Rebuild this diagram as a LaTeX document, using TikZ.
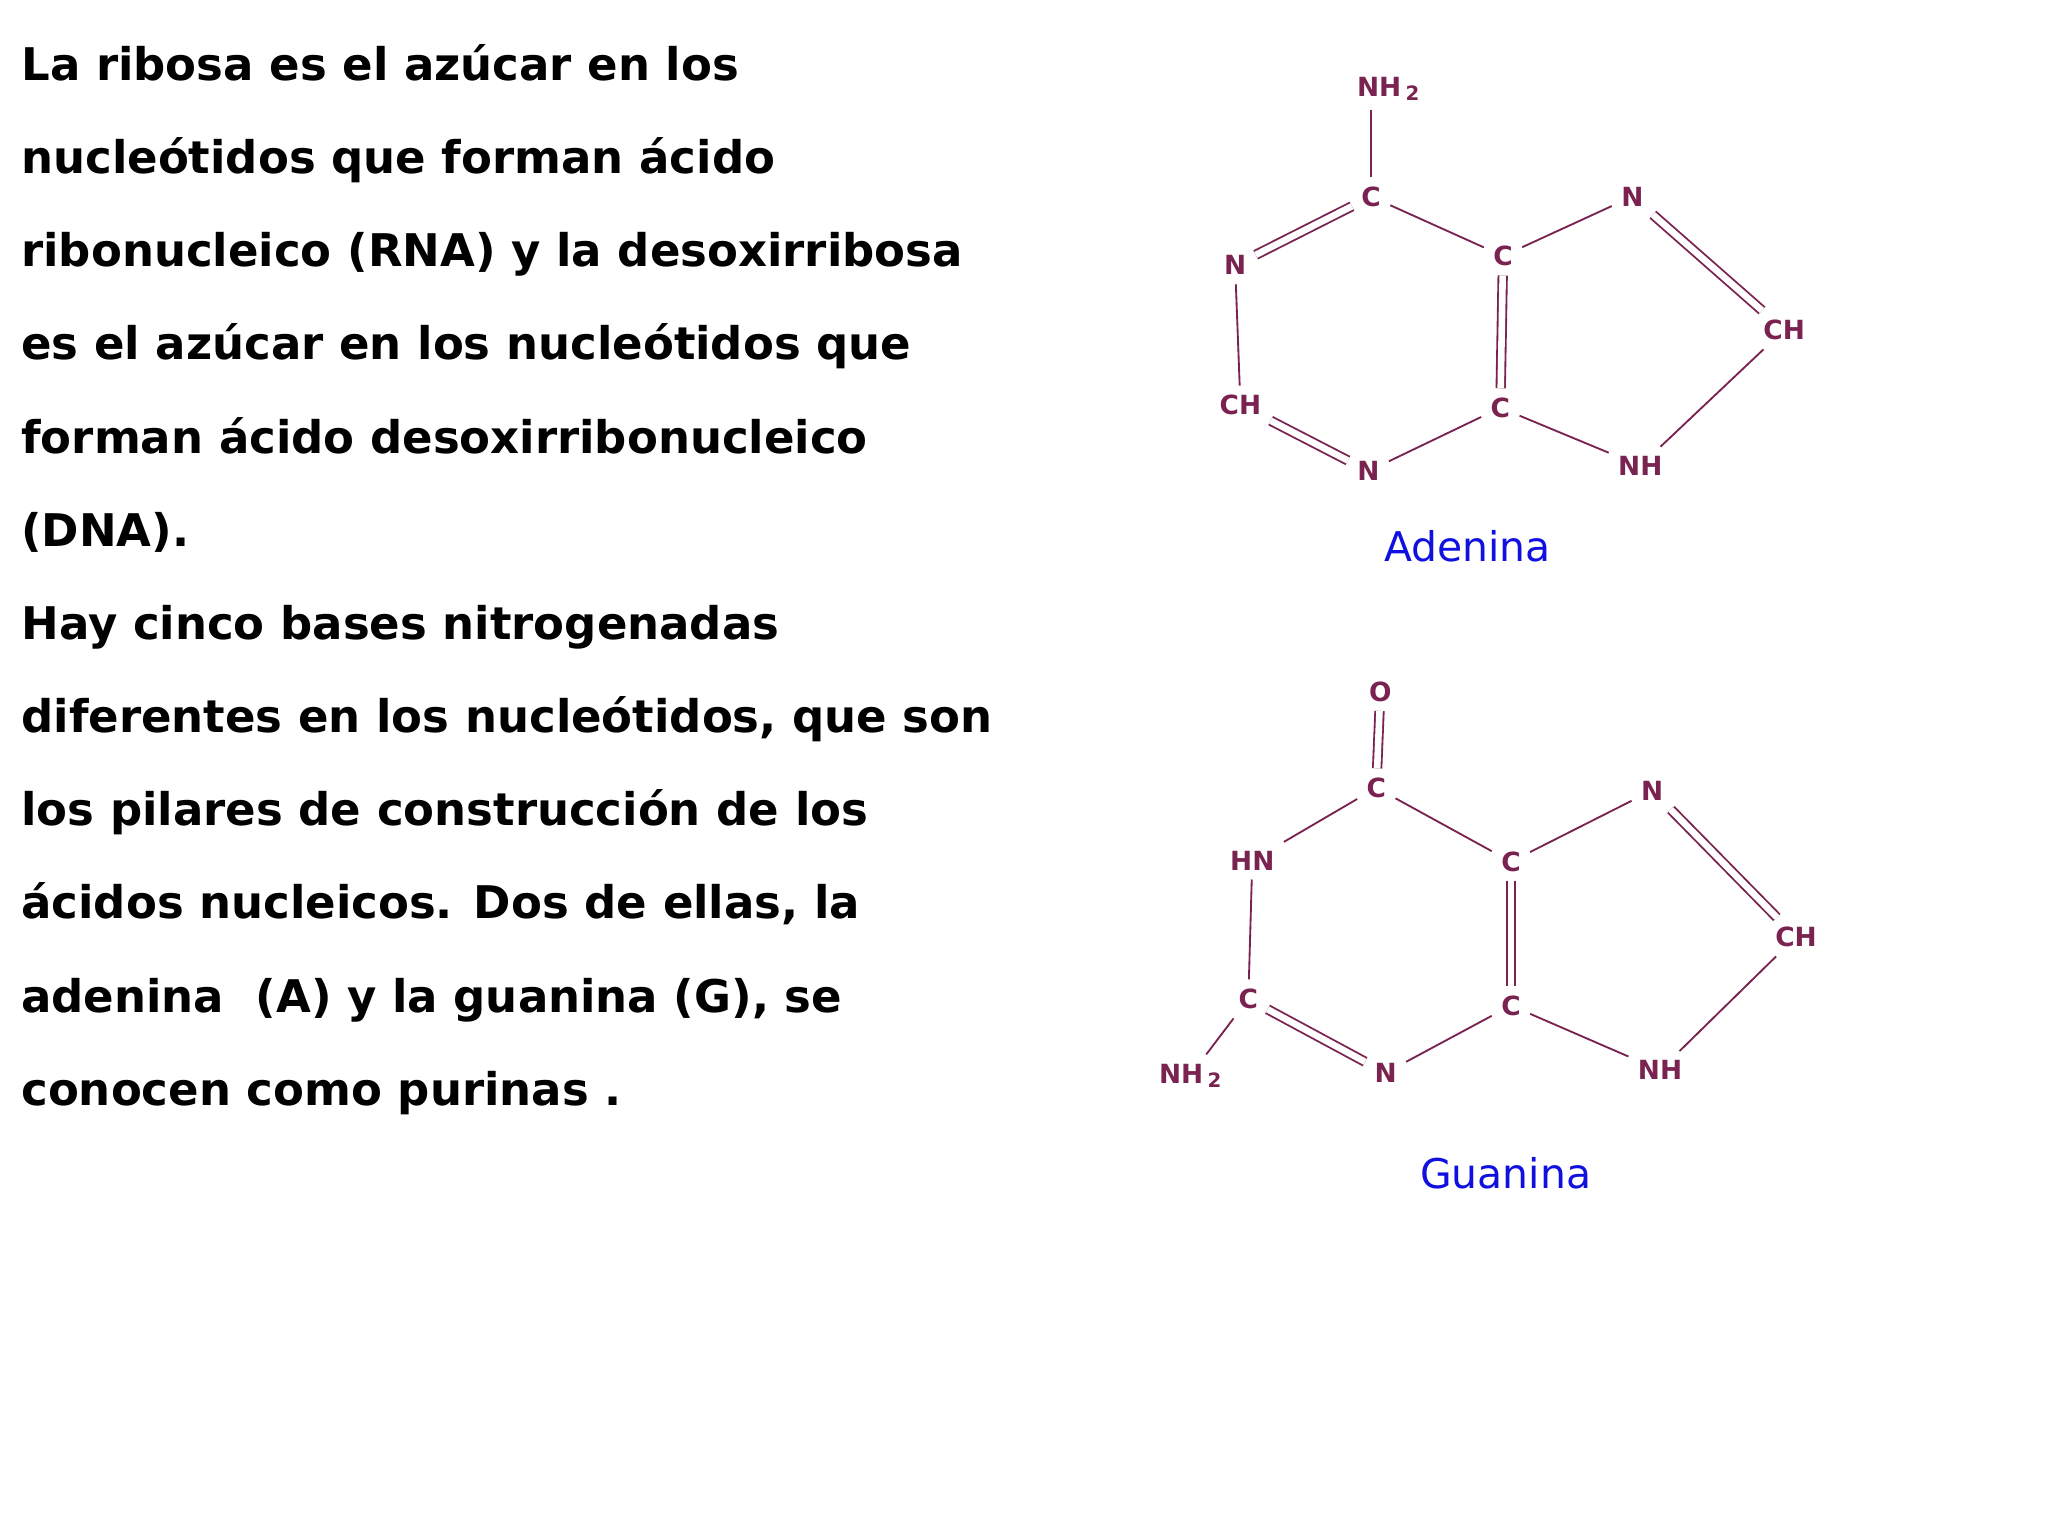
\documentclass[tikz,border=0pt]{standalone}
\usepackage{fontspec}
\setmainfont{DejaVu Sans}
\definecolor{mol}{HTML}{7A2350}
\definecolor{nm}{HTML}{1010E0}
\begin{document}
\begin{tikzpicture}[x=1pt,y=-1pt,
  txt/.style={anchor=base west,inner sep=0pt,font=\fontsize{34.1}{34.1}\selectfont\bfseries},
  atm/.style={font=\fontsize{20}{20}\selectfont\bfseries,text=mol,inner sep=7pt},
  bd/.style={draw=mol,line width=1.4pt},
  db/.style={draw=mol,line width=1.4pt,double=white,double distance=5pt},
  lab/.style={font=\fontsize{31}{31}\selectfont,text=nm}]
\useasboundingbox[fill=white] (0,0) rectangle (1552,1164);
\foreach \t [count=\i] in {La ribosa es el azúcar en los,nucleótidos que forman ácido,ribonucleico (RNA) y la desoxirribosa,es el azúcar en los nucleótidos que,forman ácido desoxirribonucleico,(DNA).,Hay cinco bases nitrogenadas,{diferentes en los nucleótidos, que son},los pilares de construcción de los,{ácidos nucleicos. Dos de ellas, la},{adenina\ \ (A) y la guanina (G), se},conocen como purinas .}
  \node[txt] (t\i) at (16,{61+70.6*(\i-1)}) {\t};
\begin{scope}[shift={(-22,-3)}]
\newcommand{\nhtwo}{NH\,\raisebox{-3pt}{\fontsize{15}{15}\selectfont 2}}
\node[atm] (a0) at (1074,70) {\nhtwo};
\node[atm] (a1) at (1061,152) {C};
\node[atm] (a2) at (958,204) {N};
\node[atm] (a3) at (962,310) {CH};
\node[atm] (a4) at (1059,360) {N};
\node[atm] (a5) at (1159,312) {C};
\node[atm] (a6) at (1161,197) {C};
\node[atm] (a7) at (1259,152) {N};
\node[atm] (a8) at (1374,253) {CH};
\node[atm] (a9) at (1265,356) {NH};
\node[lab] (an) at (1134,417) {Adenina};
\draw[bd] (a1 |- a0.south) -- (a1); \draw[db] (a1) -- (a2); \draw[bd] (a2) -- (a3);
\draw[db] (a3) -- (a4); \draw[bd] (a4) -- (a5); \draw[db] (a5) -- (a6);
\draw[bd] (a6) -- (a1); \draw[bd] (a6) -- (a7); \draw[db] (a7) -- (a8);
\draw[bd] (a8) -- (a9); \draw[bd] (a5) -- (a9);
\node[atm] (g0) at (1068,527) {O};
\node[atm] (g1) at (1065,600) {C};
\node[atm] (g2) at (971,655) {HN};
\node[atm] (g3) at (968,760) {C};
\node[atm] (g4) at (924,818) {\nhtwo};
\node[atm] (g5) at (1072,816) {N};
\node[atm] (g6) at (1167,765) {C};
\node[atm] (g7) at (1167,656) {C};
\node[atm] (g8) at (1274,602) {N};
\node[atm] (g9) at (1383,713) {CH};
\node[atm] (g10) at (1280,814) {NH};
\node[lab] (gn) at (1163,892) {Guanina};
\draw[db] (g0) -- (g1); \draw[bd] (g1) -- (g2); \draw[bd] (g2) -- (g3);
\draw[bd] (g3) -- (g4); \draw[db] (g3) -- (g5); \draw[bd] (g5) -- (g6);
\draw[db] (g6) -- (g7); \draw[bd] (g7) -- (g1); \draw[bd] (g7) -- (g8);
\draw[db] (g8) -- (g9); \draw[bd] (g9) -- (g10); \draw[bd] (g6) -- (g10);
\end{scope}
\end{tikzpicture}
\end{document}
